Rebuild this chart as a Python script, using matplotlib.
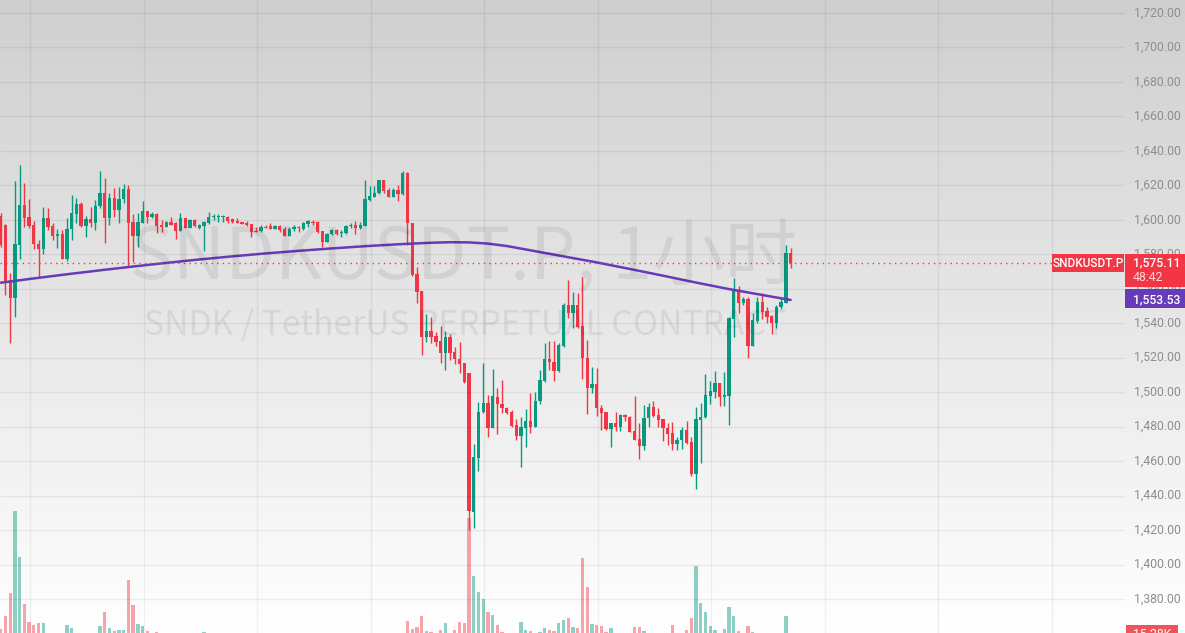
import numpy as np
import matplotlib
matplotlib.use('Agg')
import matplotlib.pyplot as plt
from matplotlib.colors import LinearSegmentedColormap
from matplotlib.patches import Rectangle
from matplotlib.transforms import blended_transform_factory

# 1h candles
opens = [1602.4, 1597.0, 1565.1, 1554.8, 1585.4, 1608.6, 1601.4, 1597.0, 1586.0, 1583.1,
         1600.9, 1596.4, 1590.8, 1591.8, 1577.3, 1594.5, 1603.4, 1609.2, 1596.6, 1600.3,
         1598.3, 1608.0, 1615.4, 1600.9, 1612.5, 1605.7, 1611.9, 1617.7, 1598.7, 1590.6,
         1598.3, 1605.1, 1601.8, 1603.4, 1597.0, 1596.0, 1598.7, 1598.0, 1593.7, 1600.9,
         1595.4, 1599.7, 1595.1, 1596.4, 1598.3, 1601.4, 1601.6, 1601.6, 1601.8, 1600.3,
         1599.3, 1598.9, 1598.0, 1597.4, 1593.5, 1593.5, 1596.0, 1596.4, 1594.9, 1596.6,
         1594.7, 1590.8, 1594.5, 1596.0, 1594.7, 1597.6, 1598.7, 1598.9, 1593.5, 1587.3,
         1591.8, 1594.1, 1592.5, 1592.2, 1596.6, 1597.0, 1595.4, 1596.6, 1611.5, 1613.4,
         1615.4, 1623.1, 1617.3, 1613.4, 1617.3, 1615.0, 1627.4, 1598.0, 1568.6, 1558.7,
         1532.2, 1535.5, 1532.8, 1529.7, 1522.9, 1532.2, 1523.5, 1519.2, 1517.1, 1511.3,
         1430.7, 1462.0, 1488.3, 1493.9, 1479.4, 1497.4, 1493.1, 1491.0, 1488.7, 1481.0,
         1474.8, 1479.4, 1483.3, 1480.0, 1494.9, 1506.7, 1519.2, 1517.7, 1512.5, 1527.0,
         1550.6, 1545.7, 1550.6, 1538.6, 1519.6, 1502.6, 1504.7, 1490.6, 1488.3, 1478.6,
         1482.1, 1480.0, 1486.8, 1485.8, 1477.5, 1472.8, 1468.8, 1484.8, 1491.6, 1486.8,
         1484.2, 1479.4, 1476.5, 1470.0, 1472.3, 1478.1, 1471.3, 1452.5, 1483.9, 1485.4,
         1498.0, 1500.3, 1505.1, 1497.4, 1498.0, 1542.7, 1558.9, 1551.9, 1554.1, 1526.8,
         1541.5, 1552.3, 1547.3, 1544.2, 1540.3, 1549.2, 1551.9, 1580.9]
highs = [1604.0, 1597.5, 1568.9, 1622.7, 1631.8, 1621.2, 1612.1, 1599.3, 1588.3, 1607.2,
         1606.7, 1598.0, 1594.5, 1594.1, 1600.9, 1614.4, 1612.5, 1610.5, 1602.2, 1607.2,
         1611.5, 1628.3, 1624.1, 1615.4, 1618.3, 1619.2, 1620.8, 1620.2, 1603.4, 1603.8,
         1611.1, 1605.3, 1604.7, 1604.1, 1599.9, 1599.3, 1601.4, 1598.9, 1603.8, 1601.0,
         1600.5, 1600.3, 1597.4, 1599.3, 1604.7, 1603.2, 1603.2, 1602.8, 1602.2, 1600.9,
         1600.9, 1598.9, 1599.3, 1597.4, 1596.0, 1597.0, 1597.0, 1598.0, 1597.0, 1597.0,
         1596.0, 1596.0, 1597.0, 1596.4, 1598.7, 1599.9, 1599.9, 1599.5, 1593.7, 1592.2,
         1594.5, 1594.5, 1594.1, 1597.0, 1598.0, 1599.3, 1598.9, 1623.1, 1619.6, 1619.6,
         1623.1, 1623.1, 1618.3, 1618.3, 1620.2, 1628.3, 1627.7, 1598.3, 1572.4, 1558.7,
         1545.3, 1543.8, 1535.1, 1538.4, 1535.5, 1533.7, 1526.4, 1529.1, 1517.1, 1511.3,
         1469.9, 1494.1, 1517.1, 1498.4, 1513.4, 1502.6, 1507.1, 1491.6, 1489.6, 1484.4,
         1485.8, 1490.4, 1499.3, 1499.9, 1512.9, 1528.7, 1529.7, 1529.7, 1528.7, 1551.9,
         1565.1, 1557.9, 1557.7, 1566.6, 1530.3, 1514.8, 1513.8, 1492.6, 1488.3, 1482.1,
         1488.3, 1487.3, 1487.3, 1486.2, 1498.0, 1482.3, 1492.6, 1493.5, 1495.1, 1490.6,
         1484.2, 1482.3, 1482.9, 1474.2, 1480.0, 1483.3, 1474.2, 1491.6, 1493.5, 1510.6,
         1506.5, 1512.3, 1505.1, 1511.9, 1543.4, 1566.1, 1561.6, 1555.4, 1555.4, 1545.8,
         1555.0, 1557.7, 1549.6, 1544.8, 1550.6, 1555.0, 1585.4, 1583.5]
lows = [1584.0, 1556.4, 1528.3, 1543.8, 1577.1, 1596.0, 1595.1, 1582.9, 1567.0, 1580.2,
        1594.1, 1588.3, 1583.5, 1577.3, 1576.3, 1588.3, 1598.0, 1596.0, 1589.8, 1596.0,
        1594.1, 1606.7, 1586.4, 1597.0, 1601.8, 1598.0, 1609.9, 1572.8, 1575.7, 1584.0,
        1598.0, 1598.3, 1600.9, 1592.2, 1593.1, 1596.0, 1597.0, 1588.7, 1593.7, 1595.1,
        1595.1, 1596.0, 1594.5, 1582.1, 1597.6, 1599.9, 1598.9, 1598.9, 1598.3, 1598.0,
        1598.0, 1597.4, 1596.6, 1590.2, 1593.1, 1593.1, 1595.1, 1594.7, 1594.5, 1593.1,
        1590.6, 1590.6, 1593.7, 1592.7, 1594.1, 1596.0, 1597.0, 1592.5, 1584.0, 1587.3,
        1591.2, 1591.4, 1590.2, 1591.8, 1595.1, 1591.8, 1594.7, 1596.6, 1611.1, 1613.0,
        1615.0, 1615.7, 1613.0, 1613.4, 1611.1, 1614.6, 1585.4, 1567.4, 1551.5, 1521.6,
        1529.3, 1528.3, 1527.0, 1517.1, 1512.9, 1518.7, 1516.1, 1510.9, 1505.1, 1420.0,
        1421.0, 1454.5, 1487.7, 1474.2, 1479.4, 1475.7, 1488.1, 1487.3, 1480.0, 1472.2,
        1456.4, 1468.0, 1476.5, 1480.0, 1493.0, 1506.1, 1512.9, 1506.7, 1511.9, 1526.4,
        1542.8, 1537.0, 1537.0, 1507.4, 1487.1, 1499.7, 1486.2, 1478.1, 1478.1, 1468.4,
        1477.7, 1477.7, 1483.3, 1477.1, 1472.3, 1461.4, 1466.5, 1480.0, 1485.8, 1480.0,
        1471.9, 1469.4, 1466.5, 1466.5, 1466.8, 1470.0, 1451.4, 1443.6, 1459.1, 1485.0,
        1493.1, 1496.4, 1492.0, 1492.0, 1481.2, 1532.2, 1545.8, 1550.6, 1520.0, 1526.8,
        1540.0, 1542.5, 1540.3, 1533.8, 1537.4, 1548.1, 1551.9, 1571.9]
closes = [1585.4, 1564.1, 1554.8, 1586.0, 1608.6, 1601.3, 1596.6, 1585.8, 1583.1, 1600.9,
          1596.0, 1590.8, 1591.8, 1577.3, 1594.7, 1604.1, 1609.2, 1596.6, 1600.3, 1598.3,
          1608.0, 1615.4, 1600.9, 1612.5, 1605.7, 1611.9, 1617.7, 1598.3, 1590.6, 1598.7,
          1605.1, 1601.8, 1603.4, 1596.6, 1596.0, 1598.7, 1597.0, 1593.7, 1600.9, 1595.4,
          1599.7, 1596.4, 1597.0, 1598.7, 1601.8, 1601.8, 1601.9, 1602.0, 1599.3, 1598.7,
          1598.3, 1597.4, 1597.0, 1593.1, 1593.1, 1596.0, 1595.4, 1594.9, 1596.6, 1594.1,
          1590.8, 1594.7, 1596.0, 1595.1, 1598.0, 1599.1, 1598.0, 1593.1, 1587.3, 1591.8,
          1594.1, 1591.8, 1592.9, 1596.6, 1597.0, 1595.4, 1597.0, 1612.1, 1613.8, 1615.7,
          1623.1, 1616.9, 1613.4, 1617.3, 1615.0, 1627.0, 1598.0, 1568.0, 1558.3, 1532.2,
          1535.5, 1532.2, 1529.3, 1522.9, 1532.2, 1522.9, 1519.0, 1516.5, 1505.7, 1431.2,
          1462.6, 1488.7, 1493.9, 1479.4, 1497.8, 1493.0, 1490.6, 1488.1, 1480.6, 1474.8,
          1480.0, 1483.3, 1480.0, 1494.9, 1507.1, 1519.2, 1517.3, 1512.5, 1527.4, 1550.6,
          1545.7, 1550.6, 1538.0, 1519.6, 1502.6, 1504.7, 1490.6, 1488.1, 1478.6, 1482.1,
          1480.0, 1486.8, 1485.8, 1477.1, 1472.3, 1468.8, 1484.8, 1491.6, 1486.2, 1483.9,
          1479.0, 1475.7, 1470.0, 1472.3, 1478.1, 1470.7, 1452.5, 1484.4, 1485.8, 1498.4,
          1500.7, 1505.1, 1497.4, 1498.4, 1543.2, 1558.9, 1551.9, 1554.1, 1526.8, 1541.9,
          1552.3, 1546.7, 1543.8, 1540.3, 1549.6, 1552.3, 1580.9, 1575.11]
# volume in K
volumes = [18, 24.5, 36, 77, 54, 30.5, 21.5, 20, 21, 21,
           12, 10, 11, 14, 20, 18.5, 12, 10, 9, 13,
           11, 19.5, 26.5, 18.5, 17, 17.5, 17.5, 42.5, 30, 20.5,
           19.5, 17, 13, 16.5, 12, 10, 9, 8, 11, 10,
           9, 12, 10, 16.5, 9, 8, 7, 9, 10, 8,
           7, 6, 8, 9, 11, 7, 8, 6, 9, 10,
           8, 11, 9, 7, 8, 10, 9, 8, 12, 13,
           9, 8, 10, 7, 9, 8, 11, 10, 14, 13,
           9, 11, 10, 12, 13, 14, 22, 18, 19, 24.5,
           17, 16.5, 14, 17.5, 21, 14, 17.5, 21.5, 21, 73.5,
           44.5, 36.5, 33, 26.5, 25, 20, 16.5, 14, 12, 13,
           21.5, 17.5, 17, 13, 16.5, 18.5, 17.5, 17, 21, 22.5,
           23.5, 19, 18.5, 53.5, 39, 20.5, 20, 19.5, 16.5, 18.5,
           13, 12, 14, 11, 19, 19, 17, 12, 11, 13,
           10, 12, 20, 13, 14, 17.5, 23.5, 49.5, 31, 26.5,
           19.5, 17.5, 14, 18, 29, 24.5, 17, 14, 19.5, 16.5,
           13, 12, 11, 14, 12, 13, 24.5, 15.28]

# moving average line, sampled by candle index
ma_idx = [0, 7, 14, 21, 28, 35, 42, 49, 56, 63, 70, 77, 84, 91, 95, 99, 103, 107,
          112, 119, 126, 133, 140, 147, 154, 161, 167]
ma_vals = [1563.5, 1566.0, 1568.4, 1570.7, 1572.9, 1575.0, 1577.0, 1578.8, 1580.5,
           1582.0, 1583.4, 1584.7, 1585.8, 1586.7, 1587.0, 1586.9, 1586.2, 1584.8,
           1582.3, 1578.8, 1575.3, 1571.5, 1567.6, 1563.6, 1559.8, 1556.4, 1553.5]

price_ticks = list(range(1380, 1721, 20))
last_price = 1575.11
ma_last = 1553.53
countdown = '48:42'
symbol = 'SNDKUSDT.P'
wm_title = 'SNDKUSDT.P, 1小时'
wm_sub = 'SNDK / TetherUS PERPETUAL CONTRACT'
vol_label = '15.28K'

GREEN = '#089981'
RED = '#F23645'
PURPLE = '#673AB7'

W, H = 1185, 633
pane_w = 1125 / W
fig = plt.figure(figsize=(W / 100, H / 100), dpi=100)

# gradient background for the whole picture
bg = fig.add_axes([0, 0, 1, 1], zorder=0)
grad = np.linspace(0, 1, 256).reshape(-1, 1)
bg.imshow(grad, cmap=LinearSegmentedColormap.from_list('bg', ['#cfcfcf', '#ffffff']),
          aspect='auto', extent=[0, 1, 0, 1])
bg.axis('off')

x_lo, x_hi = -0.15, 237.7
ax_vol = fig.add_axes([0, 0, pane_w, 1], zorder=1)
ax_vol.set_facecolor('none')
ax_vol.axis('off')
ax = fig.add_axes([0, 0, pane_w, 1], zorder=2)
ax.set_facecolor('none')
ax.axis('off')

x = np.arange(len(opens))
o = np.array(opens)
c = np.array(closes)
up = c >= o
cols = np.where(up, GREEN, RED)

# volume bars
ax_vol.bar(x, volumes, width=0.7, color=cols, alpha=0.45, linewidth=0)
ax_vol.set_xlim(x_lo, x_hi)
ax_vol.set_ylim(16, 16 + H * 0.5)

# grid
ax.hlines(price_ticks, x_lo, x_hi, color='k', alpha=0.06, lw=1)
ax.vlines(np.arange(6.2, x_hi, 24), 1300, 1800, color='k', alpha=0.06, lw=1)

# candles
ax.vlines(x, lows, highs, colors=cols, lw=1)
body = np.maximum(np.abs(c - o), 0.6)
ax.bar(x, body, bottom=np.minimum(o, c), width=0.7, color=cols, linewidth=0)

ax.plot(ma_idx, ma_vals, color=PURPLE, lw=1.8, solid_capstyle='round', solid_joinstyle='round')
ax.axhline(last_price, color=RED, lw=1, linestyle=(0, (1, 3)))

ax.set_xlim(x_lo, x_hi)
ax.set_ylim(1360.27, 1727.54)

# watermark
wm1 = ax.text(0.412, 0.592, wm_title, transform=ax.transAxes, ha='center', va='center',
              fontsize=55, color='k', alpha=0.07, family=['Noto Sans CJK SC', 'DejaVu Sans'])
wm2 = ax.text(0.413, 0.486, wm_sub, transform=ax.transAxes, ha='center', va='center',
              fontsize=22, color='k', alpha=0.07, family=['Noto Sans CJK SC', 'DejaVu Sans'])
fig.canvas.draw()
rend = fig.canvas.get_renderer()
for t, target in [(wm1, 668), (wm2, 645)]:
    bb = t.get_window_extent(rend)
    t.set_fontsize(t.get_fontsize() * target / bb.width)

# price scale
tr = blended_transform_factory(fig.transFigure, ax.transData)
for p in price_ticks:
    fig.text(1134 / W, p, f'{p:,.2f}', transform=tr, ha='left', va='center',
             fontsize=8.8, color='#8e8e8e', family='Roboto', zorder=4)

# last price labels
fig.add_artist(Rectangle((1052 / W, 1569.7), 72 / W, 10.5, transform=tr,
                         facecolor=RED, edgecolor='none', zorder=5))
fig.text(1088 / W, last_price - 0.2, symbol, transform=tr, ha='center', va='center',
         fontsize=8.6, color='white', family='Roboto', fontweight='medium', zorder=6)
fig.add_artist(Rectangle((1125 / W, 1561.0), 60 / W, 19.2, transform=tr,
                         facecolor=RED, edgecolor='none', zorder=5))
fig.text(1133 / W, last_price, f'{last_price:,.2f}', transform=tr, ha='left', va='center',
         fontsize=8.8, color='white', family='Roboto', fontweight='medium', zorder=6)
fig.text(1133 / W, 1566.8, countdown, transform=tr, ha='left', va='center',
         fontsize=8.8, color='#ffd6d9', family='Roboto', zorder=6)
fig.add_artist(Rectangle((1125 / W, 1548.8), 60 / W, 11.1, transform=tr,
                         facecolor=PURPLE, edgecolor='none', zorder=5))
fig.text(1133 / W, ma_last, f'{ma_last:,.2f}', transform=tr, ha='left', va='center',
         fontsize=8.8, color='white', family='Roboto', fontweight='medium', zorder=6)

# current volume label (cut by the bottom edge)
trv = blended_transform_factory(fig.transFigure, ax_vol.transData)
fig.add_artist(Rectangle((1126 / W, 15.28 - 4.5), 52 / W, 9, transform=trv,
                         facecolor='#f0535c', edgecolor='none', zorder=5))
fig.text(1133 / W, 15.28, vol_label, transform=trv, ha='left', va='center',
         fontsize=8.8, color='white', family='Roboto', zorder=6)

fig.savefig('out.png', dpi=100)
plt.close()
